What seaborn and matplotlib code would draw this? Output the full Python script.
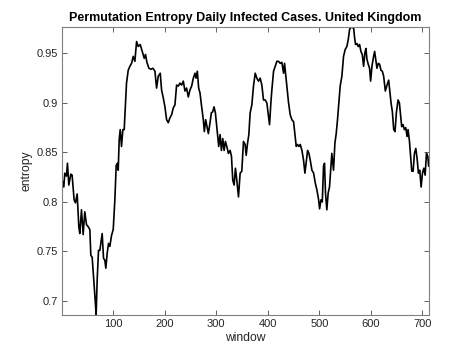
import numpy as np
import pandas as pd
import matplotlib
matplotlib.use("Agg")
import matplotlib.pyplot as plt
import matplotlib.ticker as mticker
import seaborn as sns

# values
window = [
    1, 1.3, 4.5, 6.4, 9.6, 11.6, 14.2, 18.1, 20.6, 24.5, 27.1, 30.4, 33.6, 35.5, 38.8,
    42.0, 45.2, 48.5, 51.7, 55.0, 56.9, 59.5, 62.7, 65.3, 67.2, 69.2, 71.8, 74.4, 77.0,
    78.9, 81.5, 84.1, 86.0, 88.6, 91.2, 93.8, 97.0, 100.3, 103.5, 106.1, 108.7, 110.0,
    111.9, 113.9, 116.4, 119.0, 121.6, 124.2, 126.1, 129.4, 132.6, 135.9, 139.1, 142.3,
    145.6, 148.8, 152.7, 156.6, 160.5, 163.0, 165.6, 169.5, 173.4, 177.3, 181.2, 184.4,
    187.6, 191.5, 194.1, 197.4, 200.6, 203.8, 207.1, 210.3, 213.5, 216.8, 220.0, 223.2,
    226.5, 229.7, 232.9, 236.2, 239.4, 242.6, 245.9, 249.1, 252.4, 255.6, 258.9, 260.8,
    263.4, 266.0, 268.6, 271.8, 275.0, 277.0, 279.6, 282.2, 284.8, 288.0, 290.6, 293.2,
    295.8, 298.4, 301.0, 303.0, 304.9, 307.5, 310.1, 312.7, 315.3, 317.9, 320.5, 323.7,
    327.0, 329.6, 332.1, 334.7, 337.3, 339.9, 343.2, 346.4, 349.6, 352.9, 356.1, 358.1,
    360.7, 363.3, 365.8, 369.1, 372.3, 375.6, 378.8, 382.0, 385.3, 388.5, 391.7, 395.0,
    398.2, 401.4, 403.4, 406.0, 407.9, 411.2, 414.4, 417.6, 420.9, 424.1, 427.3, 430.6,
    432.5, 435.1, 437.7, 440.3, 443.5, 446.8, 450.0, 452.6, 455.2, 457.8, 460.4, 463.0,
    466.2, 469.4, 472.0, 474.6, 477.2, 479.8, 482.4, 485.6, 488.9, 492.1, 495.3, 498.6,
    500.5, 503.1, 505.7, 508.1, 510.0, 511.9, 514.5, 517.1, 519.7, 522.3, 524.2, 527.5,
    530.1, 532.7, 535.2, 537.2, 540.4, 543.7, 546.9, 550.1, 553.4, 556.0, 558.6, 561.2,
    563.8, 566.3, 568.3, 570.2, 572.8, 575.4, 578.0, 580.6, 583.2, 585.8, 588.4, 590.3,
    592.3, 594.8, 597.4, 599.4, 602.0, 605.2, 607.2, 609.1, 611.7, 614.3, 616.9, 619.5,
    622.1, 624.7, 627.9, 631.2, 634.4, 636.4, 639.0, 641.6, 644.2, 646.8, 649.3, 652.6,
    655.2, 657.1, 659.7, 662.3, 664.9, 667.5, 670.1, 672.0, 674.6, 676.6, 679.2, 681.8,
    684.4, 687.0, 689.5, 692.1, 694.7, 697.3, 699.9, 702.5, 705.1, 707.7, 710.3, 712.0,
]
entropy = [
    0.792, 0.822, 0.815, 0.829, 0.826, 0.839, 0.817, 0.828, 0.827, 0.802, 0.799, 0.808,
    0.775, 0.768, 0.792, 0.767, 0.790, 0.777, 0.775, 0.772, 0.746, 0.744, 0.721, 0.701,
    0.686, 0.721, 0.751, 0.751, 0.761, 0.768, 0.743, 0.741, 0.733, 0.748, 0.758, 0.755,
    0.766, 0.772, 0.802, 0.837, 0.839, 0.832, 0.863, 0.873, 0.856, 0.873, 0.873, 0.900,
    0.920, 0.933, 0.937, 0.940, 0.947, 0.942, 0.962, 0.957, 0.959, 0.952, 0.945, 0.949,
    0.941, 0.935, 0.934, 0.935, 0.932, 0.915, 0.927, 0.930, 0.913, 0.905, 0.896, 0.883,
    0.880, 0.885, 0.888, 0.895, 0.898, 0.918, 0.917, 0.920, 0.918, 0.922, 0.912, 0.915,
    0.906, 0.913, 0.917, 0.925, 0.930, 0.925, 0.932, 0.915, 0.910, 0.896, 0.883, 0.871,
    0.883, 0.876, 0.869, 0.880, 0.890, 0.891, 0.896, 0.890, 0.876, 0.866, 0.856, 0.868,
    0.852, 0.864, 0.852, 0.861, 0.856, 0.849, 0.852, 0.846, 0.822, 0.817, 0.834, 0.822,
    0.805, 0.829, 0.831, 0.861, 0.858, 0.847, 0.859, 0.868, 0.890, 0.898, 0.917, 0.930,
    0.925, 0.922, 0.925, 0.918, 0.903, 0.903, 0.900, 0.886, 0.878, 0.900, 0.913, 0.932,
    0.937, 0.942, 0.942, 0.940, 0.941, 0.930, 0.940, 0.927, 0.913, 0.900, 0.888, 0.883,
    0.881, 0.869, 0.856, 0.858, 0.856, 0.858, 0.852, 0.842, 0.829, 0.841, 0.852, 0.849,
    0.842, 0.832, 0.829, 0.819, 0.812, 0.802, 0.793, 0.802, 0.800, 0.836, 0.839, 0.809,
    0.792, 0.809, 0.815, 0.834, 0.849, 0.832, 0.859, 0.869, 0.883, 0.896, 0.917, 0.927,
    0.947, 0.954, 0.957, 0.964, 0.974, 0.977, 0.976, 0.977, 0.966, 0.959, 0.960, 0.957,
    0.959, 0.952, 0.949, 0.937, 0.951, 0.955, 0.944, 0.939, 0.935, 0.922, 0.937, 0.947,
    0.952, 0.945, 0.935, 0.940, 0.939, 0.933, 0.932, 0.927, 0.912, 0.918, 0.923, 0.913,
    0.900, 0.891, 0.873, 0.871, 0.890, 0.903, 0.900, 0.890, 0.876, 0.878, 0.873, 0.875,
    0.866, 0.873, 0.862, 0.849, 0.831, 0.831, 0.849, 0.854, 0.844, 0.829, 0.832, 0.815,
    0.829, 0.834, 0.827, 0.849, 0.846, 0.836,
]
x_ticks = [100, 200, 300, 400, 500, 600, 700]
y_ticks = [0.7, 0.75, 0.8, 0.85, 0.9, 0.95]

df = pd.DataFrame({"window": window, "entropy": entropy})

# matlab-like look: boxed axes, ticks pointing inwards on all four sides
sns.set_style("ticks", {
    "xtick.direction": "in", "ytick.direction": "in",
    "xtick.top": True, "ytick.right": True,
    "axes.edgecolor": "#808080",
})
plt.rcParams["font.family"] = ["Liberation Sans", "DejaVu Sans"]
plt.rcParams["xtick.major.size"] = 3.5
plt.rcParams["ytick.major.size"] = 3.5
plt.rcParams["xtick.major.width"] = 0.7
plt.rcParams["ytick.major.width"] = 0.7

fig = plt.figure(figsize=(4.74, 3.55), dpi=100)
ax = fig.add_axes([0.1308, 0.1135, 0.7736, 0.8113])

sns.lineplot(data=df, x="window", y="entropy", color="black", linewidth=1.2, ax=ax)

ax.set_xlim(1, 712)
ax.set_ylim(min(entropy), max(entropy))
ax.set_xticks(x_ticks)
ax.set_yticks(y_ticks)
ax.yaxis.set_major_formatter(mticker.FormatStrFormatter("%g"))

ax.tick_params(which="major", direction="in", length=3.5, width=0.7, color="#606060",
               labelcolor="#262626", labelsize=8, top=True, right=True,
               bottom=True, left=True, pad=3)
for sp in ax.spines.values():
    sp.set_visible(True)
    sp.set_color("#808080")
    sp.set_linewidth(0.8)

ax.set_xlabel("window", fontsize=8.7, color="#262626", labelpad=2)
ax.set_ylabel("entropy", fontsize=8.7, color="#262626", labelpad=3)
ax.set_title("Permutation Entropy Daily Infected Cases. United Kingdom",
             fontsize=9, fontweight="bold", color="black", pad=4)

fig.savefig("out.png", dpi=100, facecolor="white")
